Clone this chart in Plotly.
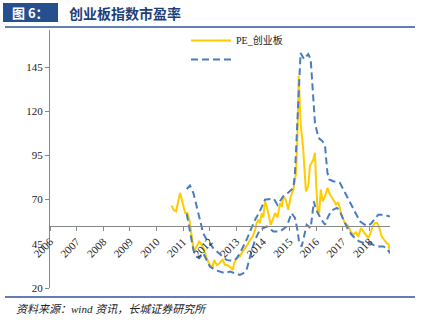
import plotly.graph_objects as go

# PE of the ChiNext (创业板) index, x in decimal years
pe_x = [2010.57, 2010.66, 2010.74, 2010.82, 2010.89, 2010.99, 2011.08, 2011.16, 2011.24,
        2011.33, 2011.41, 2011.51, 2011.61, 2011.70, 2011.80, 2011.89, 2012.01, 2012.12,
        2012.17, 2012.27, 2012.37, 2012.49, 2012.58, 2012.66, 2012.77, 2012.87, 2012.92,
        2013.02, 2013.14, 2013.24, 2013.33, 2013.42, 2013.52, 2013.62, 2013.71, 2013.77,
        2013.83, 2013.89, 2013.96, 2014.02, 2014.08, 2014.15, 2014.21, 2014.30, 2014.38,
        2014.46, 2014.55, 2014.65, 2014.72, 2014.77, 2014.86, 2014.96, 2015.05, 2015.15,
        2015.25, 2015.30, 2015.35, 2015.42, 2015.52, 2015.62, 2015.71, 2015.77, 2015.90,
        2015.96, 2016.00, 2016.06, 2016.12, 2016.18, 2016.25, 2016.34, 2016.43, 2016.53,
        2016.65, 2016.75, 2016.84, 2016.90, 2016.97, 2017.09, 2017.21, 2017.30, 2017.40,
        2017.50, 2017.59, 2017.69, 2017.78, 2017.88, 2017.97, 2018.05, 2018.13, 2018.22,
        2018.30, 2018.38, 2018.47, 2018.56, 2018.66, 2018.72, 2018.78]
pe_y = [66.6, 64.0, 63.4, 70.0, 73.8, 68.0, 62.4, 62.4, 58.6,
        49.0, 40.6, 43.5, 46.3, 44.4, 41.6, 36.9, 33.0, 32.1,
        35.9, 33.0, 34.0, 36.0, 33.0, 33.0, 32.0, 30.2, 34.0,
        36.9, 37.8, 40.6, 42.5, 44.4, 47.3, 49.1, 53.0, 56.8,
        58.6, 56.8, 62.4, 60.0, 69.0, 66.0, 62.0, 55.8, 59.0,
        62.4, 60.0, 68.0, 66.0, 71.9, 70.0, 64.3, 71.9, 75.7,
        85.2, 104.0, 140.0, 113.6, 98.4, 74.7, 77.6, 89.0, 92.7,
        96.5, 81.0, 64.0, 62.4, 75.7, 69.0, 71.9, 76.6, 72.8,
        70.0, 67.2, 68.5, 64.3, 60.5, 56.8, 55.2, 52.0, 50.1,
        51.5, 49.1, 53.9, 52.0, 50.1, 48.2, 51.0, 54.8, 56.8,
        56.8, 53.9, 49.1, 47.3, 45.4, 45.0, 40.6]

# upper band
up_x = [2011.14, 2011.26, 2011.39, 2011.51, 2011.64, 2011.76, 2011.89, 2012.01, 2012.14,
        2012.27, 2012.39, 2012.52, 2012.64, 2012.77, 2012.92, 2013.02, 2013.14, 2013.27,
        2013.39, 2013.52, 2013.71, 2013.89, 2013.96, 2014.08, 2014.27, 2014.42, 2014.55,
        2014.65, 2014.77, 2014.96, 2015.15, 2015.21, 2015.27, 2015.37, 2015.42, 2015.55,
        2015.71, 2015.80, 2015.88, 2015.96, 2016.09, 2016.25, 2016.34, 2016.43, 2016.50,
        2016.65, 2016.90, 2017.03, 2017.15, 2017.28, 2017.40, 2017.53, 2017.65, 2017.84,
        2017.97, 2018.09, 2018.22, 2018.34, 2018.53, 2018.78]
up_y = [76.0, 78.0, 73.8, 66.2, 58.6, 51.0, 47.3, 45.4, 42.5,
        40.6, 38.8, 37.4, 35.9, 35.5, 35.5, 36.9, 39.7, 43.5,
        47.3, 52.0, 58.6, 63.4, 66.0, 70.0, 70.4, 70.4, 67.0,
        69.0, 71.9, 74.0, 76.6, 85.2, 104.0, 142.0, 153.0, 149.5,
        152.4, 149.5, 132.5, 113.6, 105.0, 103.0, 100.3, 85.2, 81.4,
        80.4, 79.5, 75.7, 71.9, 68.0, 64.3, 60.5, 57.7, 55.8,
        55.2, 56.8, 59.6, 61.5, 61.5, 60.5]

# lower band
lo_x = [2011.14, 2011.26, 2011.39, 2011.49, 2011.61, 2011.76, 2011.89, 2012.01, 2012.20,
        2012.39, 2012.58, 2012.77, 2012.95, 2013.14, 2013.27, 2013.39, 2013.52, 2013.71,
        2013.89, 2014.15, 2014.40, 2014.65, 2014.90, 2015.08, 2015.21, 2015.30, 2015.37,
        2015.46, 2015.55, 2015.65, 2015.80, 2015.88, 2015.92, 2016.00, 2016.09, 2016.21,
        2016.34, 2016.46, 2016.59, 2016.78, 2016.87, 2016.97, 2017.09, 2017.21, 2017.34,
        2017.47, 2017.63, 2017.84, 2018.03, 2018.15, 2018.34, 2018.53, 2018.66, 2018.78]
lo_y = [62.0, 51.0, 41.6, 37.8, 36.9, 39.7, 36.0, 32.1, 30.2,
        29.3, 28.4, 29.3, 28.4, 27.4, 28.4, 30.2, 37.8, 47.3,
        53.0, 54.8, 52.0, 52.0, 54.8, 62.4, 59.6, 53.0, 45.4,
        43.5, 49.1, 55.8, 53.9, 66.2, 69.0, 64.3, 61.5, 58.6,
        55.8, 60.5, 63.9, 65.3, 64.3, 60.5, 56.8, 53.0, 50.1,
        48.2, 46.3, 45.4, 45.4, 44.4, 43.5, 43.5, 42.5, 39.7]

years = list(range(2006, 2019))
year_labels = [str(y) for y in years]
y_ticks = [20, 45, 70, 95, 120, 145]

Y_MIN, Y_MAX = 20, 166
X_CROSS = 55  # value where the horizontal axis crosses

YELLOW = "#FFCC00"
BLUE = "#4A7DC0"
NAVY = "#1F3F78"
AXIS = "#888888"

fig = go.Figure()
fig.add_trace(go.Scatter(x=pe_x, y=pe_y, mode="lines", name="PE_创业板",
                         line=dict(color=YELLOW, width=2)))
fig.add_trace(go.Scatter(x=up_x, y=up_y, mode="lines", name=" ",
                         line=dict(color=BLUE, width=2, dash="7px,4px")))
fig.add_trace(go.Scatter(x=lo_x, y=lo_y, mode="lines", name=" ", showlegend=False,
                         line=dict(color=BLUE, width=2, dash="7px,4px")))

W, H = 422, 334
L, R, T, B = 50, 32, 30, 46
pw, ph = W - L - R, H - T - B


def px(x):
    return (x - L) / pw


def py(y):
    return (H - B - y) / ph


fig.update_layout(
    width=W, height=H,
    margin=dict(l=L, r=R, t=T, b=B),
    paper_bgcolor="white", plot_bgcolor="white",
    font=dict(family="Liberation Serif, Noto Sans CJK SC", size=11, color="#222222"),
    showlegend=True,
    legend=dict(x=px(186), y=py(26), xanchor="left", yanchor="top",
                bgcolor="rgba(0,0,0,0)", itemwidth=40, tracegroupgap=0,
                font=dict(family="Liberation Serif, Noto Sans CJK SC", size=10)),
    xaxis=dict(range=[2006, 2006 + pw / 26.6], tickmode="array", tickvals=years,
               ticktext=year_labels, tickangle=-45, showgrid=False, zeroline=False,
               showline=True, linecolor=AXIS, linewidth=1, ticks="outside",
               ticklen=4, tickcolor=AXIS, anchor="free",
               position=(X_CROSS - Y_MIN) / (Y_MAX - Y_MIN),
               tickfont=dict(size=11, family="Liberation Serif")),
    yaxis=dict(range=[Y_MIN, Y_MAX], tickmode="array", tickvals=y_ticks,
               showgrid=False, zeroline=False, showline=True, linecolor=AXIS,
               linewidth=1, ticks="outside", ticklen=4, tickcolor=AXIS,
               tickfont=dict(size=11, family="Liberation Serif")),
)

# header: label box, title and rules
fig.add_shape(type="rect", xref="paper", yref="paper",
              x0=px(3), x1=px(58), y0=py(22), y1=py(3),
              fillcolor="#264F8E", line=dict(width=0))
fig.add_annotation(xref="paper", yref="paper", x=px(30.5), y=py(12.5),
                   xanchor="center", yanchor="middle",
                   text="<b>图 6：</b>", showarrow=False,
                   font=dict(family="Noto Sans CJK SC", size=13, color="white"))
fig.add_annotation(xref="paper", yref="paper", x=px(67), y=py(12.5),
                   xanchor="left", yanchor="middle",
                   text="<b>创业板指数市盈率</b>", showarrow=False,
                   font=dict(family="Noto Sans CJK SC", size=14, color=NAVY))
for yy in (27, 297):
    fig.add_shape(type="line", xref="paper", yref="paper",
                  x0=px(5), x1=px(415), y0=py(yy), y1=py(yy),
                  line=dict(color="#2E5597", width=1.5))
fig.add_annotation(xref="paper", yref="paper", x=px(14), y=py(309),
                   xanchor="left", yanchor="middle",
                   text="<i>资料来源：wind 资讯，长城证券研究所</i>", showarrow=False,
                   font=dict(family="Liberation Serif, Noto Sans CJK SC", size=11,
                             color="#222222"))

fig.write_html("out.html")
